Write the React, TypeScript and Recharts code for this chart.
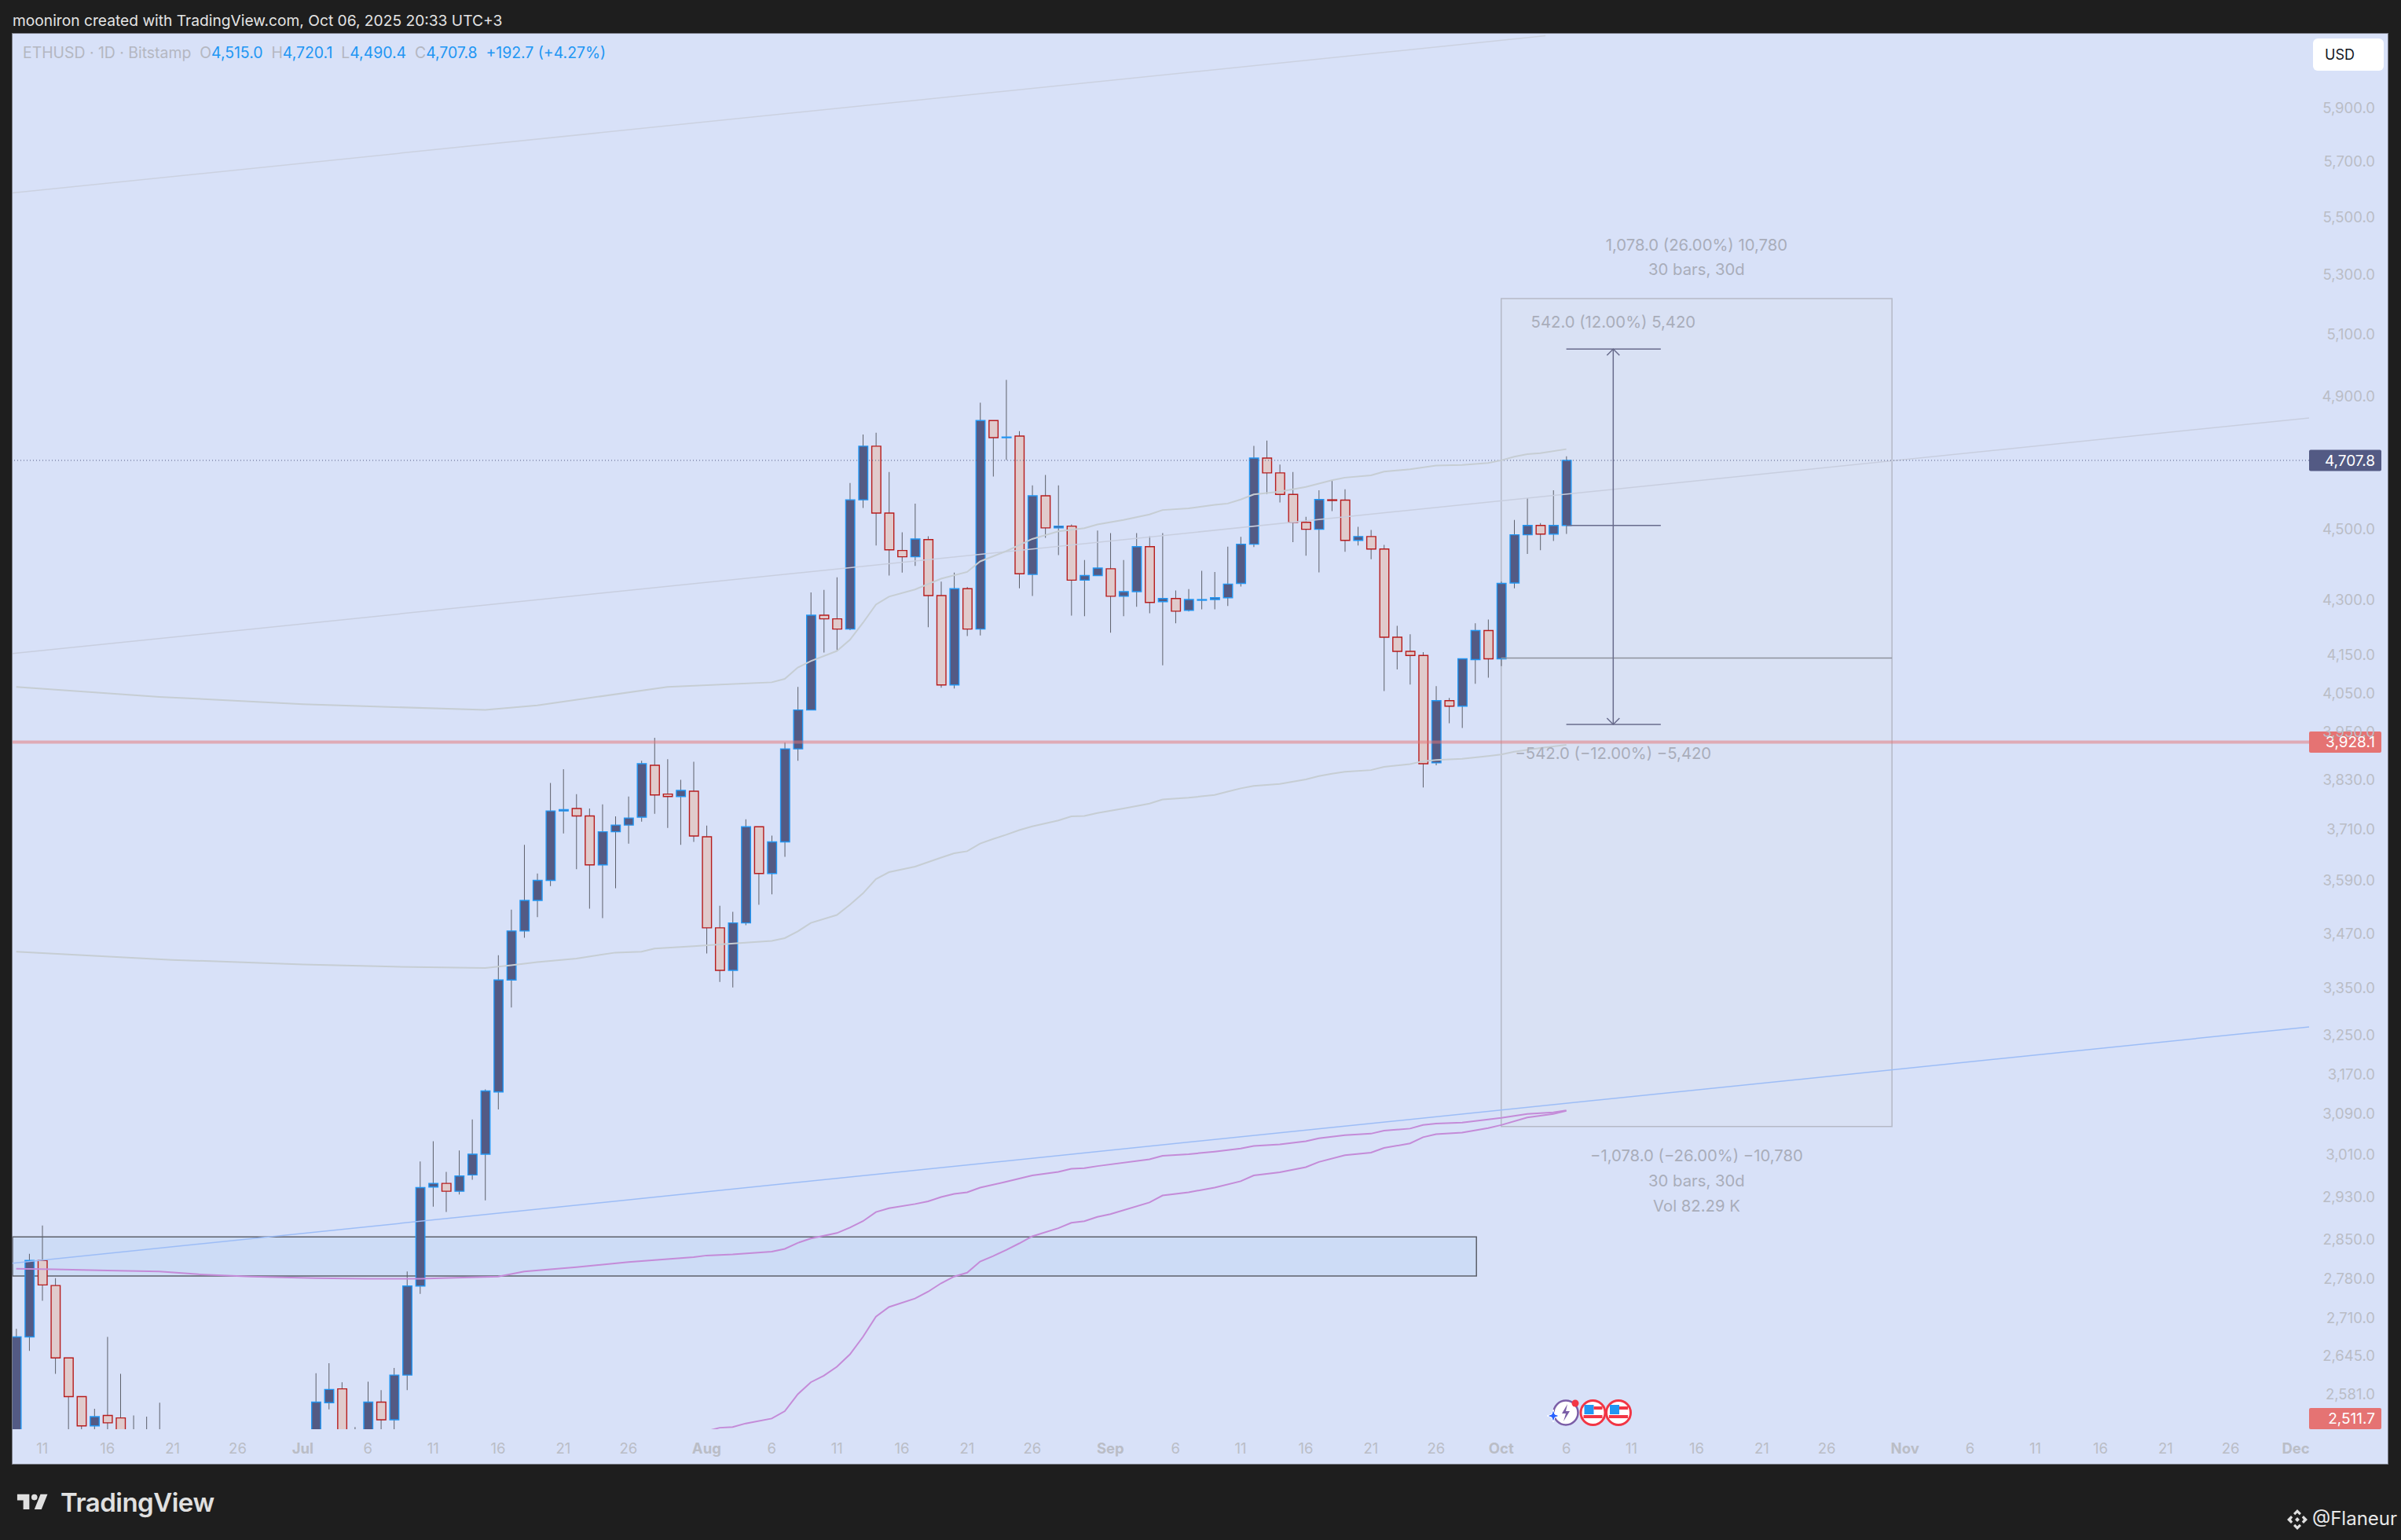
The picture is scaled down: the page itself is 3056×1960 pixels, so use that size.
import React from 'react'
import {
  Bar,
  Cell,
  ComposedChart,
  Line,
  ReferenceArea,
  ReferenceDot,
  ReferenceLine,
  XAxis,
  YAxis
} from 'recharts'

const WIDTH = 3056
const HEIGHT = 1960
const FONT = 'Inter, "Noto Sans", sans-serif'

// days counted from Jul 1 2025, ETHUSD 1D candles
const candleDays = [
  -22, -21, -20, -19, -18, -17, -16, -15, -14, -13, -12, -11,
  1, 2, 3, 4, 5, 6, 7, 8, 9, 10, 11, 12, 13, 14, 15, 16, 17, 18, 19, 20,
  21, 22, 23, 24, 25, 26, 27, 28, 29, 30, 31, 32, 33, 34, 35, 36, 37, 38, 39, 40,
  41, 42, 43, 44, 45, 46, 47, 48, 49, 50, 51, 52, 53, 54, 55, 56, 57, 58, 59, 60,
  61, 62, 63, 64, 65, 66, 67, 68, 69, 70, 71, 72, 73, 74, 75, 76, 77, 78, 79, 80,
  81, 82, 83, 84, 85, 86, 87, 88, 89, 90, 91, 92, 93, 94, 95, 96, 97
]
const opens = [
  2490, 2680, 2815, 2770, 2644, 2579, 2531, 2548, 2544, 2490, 2470, 2500,
  2510, 2569, 2592, 2500, 2515, 2570, 2541, 2615, 2769, 2951, 2958, 2943, 2974, 3014, 3137, 3371, 3479, 3548, 3594, 3758,
  3764, 3746, 3630, 3708, 3724, 3743, 3870, 3799, 3793, 3806, 3696, 3486, 3392, 3497, 3720, 3610, 3684, 3911, 4010, 4262,
  4252, 4224, 4590, 4751, 4551, 4443, 4425, 4474, 4316, 4075, 4335, 4224, 4830, 4777, 4782, 4375, 4602, 4508, 4513, 4359,
  4372, 4391, 4314, 4327, 4454, 4299, 4308, 4275, 4303, 4305, 4310, 4350, 4461, 4715, 4670, 4606, 4524, 4504, 4590, 4589,
  4472, 4483, 4447, 4202, 4164, 4153, 3876, 4034, 4020, 4142, 4220, 4144, 4351, 4488, 4515, 4490, 4515
]
const highs = [
  2694, 2827, 2879, 2783, 2644, 2579, 2559, 2680, 2617, 2548, 2546, 2569,
  2618, 2635, 2603, 2529, 2604, 2590, 2627, 2795, 3000, 3039, 2980, 3021, 3082, 3142, 3425, 3527, 3677, 3610, 3826, 3860,
  3799, 3764, 3774, 3745, 3793, 3881, 3939, 3885, 3834, 3879, 3723, 3536, 3522, 3738, 3720, 3699, 3927, 4070, 4325, 4332,
  4367, 4640, 4787, 4792, 4673, 4495, 4579, 4484, 4355, 4380, 4340, 4886, 4830, 4958, 4797, 4633, 4664, 4633, 4518, 4416,
  4500, 4493, 4416, 4493, 4484, 4493, 4330, 4334, 4385, 4382, 4454, 4482, 4752, 4768, 4695, 4673, 4540, 4618, 4647, 4621,
  4511, 4502, 4459, 4233, 4210, 4162, 4072, 4041, 4145, 4240, 4250, 4355, 4531, 4595, 4522, 4618, 4720.1
]
const lows = [
  2475, 2656, 2743, 2617, 2500, 2490, 2500, 2505, 2450, 2440, 2440, 2400,
  2490, 2558, 2480, 2470, 2495, 2515, 2510, 2590, 2755, 2914, 2904, 2937, 2965, 2926, 3102, 3312, 3464, 3510, 3581, 3704,
  3620, 3529, 3508, 3576, 3680, 3732, 3751, 3717, 3677, 3684, 3429, 3367, 3355, 3492, 3538, 3562, 3649, 3881, 4010, 4161,
  4165, 4221, 4566, 4457, 4372, 4380, 4399, 4229, 4068, 4066, 4205, 4207, 4659, 4709, 4336, 4315, 4479, 4430, 4261, 4259,
  4372, 4214, 4259, 4285, 4267, 4127, 4240, 4272, 4278, 4278, 4287, 4341, 4453, 4607, 4582, 4467, 4428, 4381, 4557, 4439,
  4457, 4418, 4059, 4116, 4076, 3815, 3870, 3976, 3964, 4078, 4094, 4125, 4336, 4433, 4444, 4470, 4490.4
]
const closes = [
  2680, 2815, 2771, 2644, 2579, 2531, 2546, 2536, 2480, 2470, 2500, 2420,
  2570, 2591, 2500, 2515, 2570, 2541, 2615, 2769, 2950, 2958, 2943, 2972, 3014, 3139, 3371, 3479, 3548, 3594, 3758, 3761,
  3746, 3630, 3708, 3724, 3741, 3874, 3797, 3793, 3808, 3698, 3486, 3392, 3497, 3720, 3610, 3684, 3911, 4010, 4262, 4252,
  4224, 4590, 4751, 4551, 4445, 4425, 4476, 4316, 4075, 4335, 4224, 4830, 4777, 4779, 4377, 4602, 4508, 4513, 4359, 4372,
  4393, 4314, 4327, 4454, 4297, 4308, 4273, 4305, 4305, 4310, 4348, 4461, 4715, 4670, 4606, 4524, 4504, 4591, 4588, 4472,
  4483, 4447, 4202, 4164, 4153, 3874, 4034, 4020, 4144, 4220, 4144, 4350, 4488, 4515, 4490, 4515, 4707.8
]

// anchored bands, sparse readings
const upperGrayDays = [-22, -11, 0, 14, 18, 28, 36, 37, 38, 39, 41, 42, 43, 44, 45, 47, 49, 51, 52, 54, 56, 58, 60, 61, 63, 65, 66, 68, 70, 71, 72, 73, 75, 77, 79, 80, 82, 83, 85, 87, 89, 91, 92, 93, 94, 95, 97]
const upperGrayValues = [4070, 4044, 4025, 4010, 4022, 4070, 4082, 4091, 4121, 4138, 4165, 4195, 4241, 4291, 4313, 4333, 4363, 4382, 4412, 4441, 4476, 4498, 4507, 4518, 4531, 4547, 4560, 4565, 4575, 4579, 4591, 4606, 4614, 4628, 4648, 4656, 4663, 4674, 4681, 4692, 4694, 4700, 4708, 4719, 4727, 4730, 4742]
const lowerGrayDays = [-22, -10, 0, 7, 14, 16, 18, 21, 24, 26, 27, 30, 32, 36, 37, 38, 39, 41, 42, 43, 44, 45, 47, 49, 50, 51, 52, 53, 54, 55, 56, 58, 59, 60, 61, 63, 65, 66, 68, 70, 71, 72, 73, 75, 77, 78, 79, 80, 82, 83, 85, 86, 87, 89, 91, 92, 93, 95, 97]
const lowerGrayValues = [3433, 3415, 3405, 3400, 3397, 3403, 3410, 3418, 3431, 3433, 3440, 3445, 3449, 3457, 3463, 3478, 3497, 3515, 3538, 3564, 3597, 3613, 3626, 3647, 3657, 3662, 3680, 3691, 3701, 3712, 3721, 3735, 3745, 3746, 3753, 3764, 3776, 3786, 3790, 3797, 3805, 3813, 3819, 3824, 3835, 3843, 3849, 3854, 3858, 3866, 3873, 3880, 3883, 3886, 3893, 3897, 3904, 3913, 3921]
const upperPurpleDays = [-22, -19, -15, -11, -8, -4, 1, 5, 9, 15, 17, 21, 25, 30, 31, 33, 36, 37, 38, 39, 40, 41, 42, 43, 44, 45, 47, 48, 49, 50, 51, 52, 54, 56, 58, 59, 60, 61, 65, 66, 68, 70, 72, 73, 75, 77, 78, 80, 82, 83, 85, 86, 87, 89, 91, 92, 94, 96, 97]
const upperPurpleValues = [2800, 2799, 2797, 2795, 2790, 2786, 2783, 2782, 2782, 2786, 2795, 2803, 2812, 2821, 2824, 2826, 2831, 2836, 2847, 2855, 2860, 2865, 2875, 2887, 2904, 2911, 2919, 2924, 2932, 2938, 2941, 2950, 2961, 2973, 2980, 2986, 2987, 2991, 3004, 3011, 3014, 3019, 3025, 3030, 3033, 3039, 3045, 3051, 3054, 3060, 3064, 3071, 3074, 3076, 3082, 3085, 3093, 3096, 3100]
const lowerPurpleDays = [30, 32, 33, 34, 36, 37, 38, 39, 40, 41, 42, 43, 44, 45, 47, 48, 49, 50, 51, 52, 53, 54, 55, 56, 58, 59, 60, 61, 62, 65, 66, 68, 70, 72, 73, 75, 77, 78, 80, 82, 83, 85, 86, 87, 89, 91, 92, 94, 96, 97]
const lowerPurpleValues = [2517, 2528, 2529, 2535, 2543, 2555, 2583, 2603, 2614, 2629, 2650, 2680, 2715, 2732, 2747, 2759, 2774, 2786, 2793, 2813, 2823, 2834, 2846, 2859, 2874, 2884, 2887, 2895, 2900, 2922, 2935, 2941, 2950, 2962, 2973, 2979, 2989, 2999, 3012, 3017, 3026, 3035, 3047, 3053, 3056, 3065, 3071, 3086, 3093, 3099]

// y axis and x axis labels
const priceTicks = [5900, 5700, 5500, 5300, 5100, 4900, 4500, 4300, 4150, 4050, 3950, 3830, 3710, 3590, 3470, 3350, 3250, 3170, 3090, 3010, 2930, 2850, 2780, 2710, 2645, 2581]
const timeTickDays = [-20, -15, -10, -5, 0, 5, 10, 15, 20, 25, 31, 36, 41, 46, 51, 56, 62, 67, 72, 77, 82, 87, 92, 97, 102, 107, 112, 117, 123, 128, 133, 138, 143, 148, 153]
const timeTickLabels = ['11', '16', '21', '26', 'Jul', '6', '11', '16', '21', '26', 'Aug', '6', '11', '16', '21', '26', 'Sep', '6', '11', '16', '21', '26', 'Oct', '6', '11', '16', '21', '26', 'Nov', '6', '11', '16', '21', '26', 'Dec']
const monthLabels = ['Jul', 'Aug', 'Sep', 'Oct', 'Nov', 'Dec']

const X_DOMAIN: [number, number] = [-22.28, 154.02]
const Y_DOMAIN: [number, number] = [2525.6, 6190]

// drawings on the chart
const lastClose = 4707.8
const redLevel = 3928.1
const zoneTop = 2858
const zoneBottom = 2787
const zoneEndDay = 90.1
const boxStartDay = 92
const boxEndDay = 122
const boxMid = 4146
const boxTop = 5224
const boxBottom = 3068
const innerStartDay = 97
const innerEndDay = 104.25
const innerMidDay = 100.6
const innerMid = 4515
const innerTop = 5057
const innerBottom = 3973

const candles = candleDays.map((day, i) => ({
  day,
  wick: [lows[i], highs[i]],
  body: [Math.min(opens[i], closes[i]), Math.max(opens[i], closes[i])],
  up: closes[i] >= opens[i]
}))

const toSeries = (days: number[], values: number[]) =>
  days.map((day, i) => ({ day, value: values[i] }))

const fmt = (v: number) =>
  v.toLocaleString('en-US', { minimumFractionDigits: 1, maximumFractionDigits: 1 })

const PriceTick = ({ y, payload }: any) => (
  <text x={3023} y={y - 2} dy="0.36em" textAnchor="end" fontFamily={FONT} fontSize={18.5} fill="#babdc6">
    {fmt(payload.value)}
  </text>
)

const TimeTick = ({ x, payload }: any) => {
  const label = timeTickLabels[timeTickDays.indexOf(payload.value)]
  return (
    <text
      x={x}
      y={1843}
      dy="0.36em"
      textAnchor="middle"
      fontFamily={FONT}
      fontSize={18.5}
      fontWeight={monthLabels.includes(label) ? 700 : 400}
      fill="#babdc6"
    >
      {label}
    </text>
  )
}

const PriceTag = ({ viewBox, text, fill }: any) => (
  <g>
    <rect x={2939} y={viewBox.y - 13.5} width={92} height={27} rx={2} fill={fill} />
    <text x={3023} y={viewBox.y} dy="0.36em" textAnchor="end" fontFamily={FONT} fontSize={19} fill="#ffffff">
      {text}
    </text>
  </g>
)

const noteShape = (text: string, dy: number) => (props: any) => (
  <text
    x={props.cx}
    y={props.cy + dy}
    dy="0.36em"
    textAnchor="middle"
    fontFamily={FONT}
    fontSize={20.3}
    fill="#a9adba"
  >
    {text}
  </text>
)

const arrowShape = (dir: number) => (props: any) => (
  <path
    d={`M${props.cx - 8} ${props.cy + dir * 8}L${props.cx} ${props.cy}L${props.cx + 8} ${props.cy + dir * 8}`}
    fill="none"
    stroke="#686b8c"
    strokeWidth={1.5}
  />
)

const UsFlag = ({ cx }: { cx: number }) => (
  <g>
    <circle cx={cx} cy={18} r={15.5} fill="#ffffff" stroke="#f23645" strokeWidth={3} />
    <rect x={cx - 11} y={8} width={12} height={12} fill="#2196f3" />
    <rect x={cx + 1} y={10} width={11} height={4} fill="#f23645" />
    <rect x={cx - 12} y={21} width={24} height={4} fill="#f23645" />
  </g>
)

const EventIcons = () => (
  <svg width={114} height={38} style={{ position: 'absolute', left: 1968, top: 1780 }}>
    <circle cx={25} cy={18} r={15.5} fill="#ffffff" stroke="#7b5ea7" strokeWidth={2.5} />
    <path d="M27 7l-7 12h5l-3 10 8-13h-5z" fill="#7b5ea7" />
    <path d="M9 14l2 6 6 2-6 2-2 6-2-6-6-2 6-2z" fill="#2962ff" stroke="#ffffff" strokeWidth={1} />
    <circle cx={37} cy={6} r={4.5} fill="#f23645" />
    <UsFlag cx={59.5} />
    <UsFlag cx={92} />
  </svg>
)

const TvLogo = () => (
  <svg width={47} height={36} viewBox="0 0 36 28" style={{ position: 'absolute', left: 19, top: 1894 }}>
    <path d="M14 6H2v6h6v9h6V6Zm12 15h-7l6-15h7l-6 15Zm-7-9a3 3 0 1 0 0-6 3 3 0 0 0 0 6Z" fill="#e0e0e0" />
  </svg>
)

const BinanceMark = () => (
  <svg width={28} height={28} viewBox="0 0 28 28" style={{ position: 'absolute', left: 2910, top: 1920 }}>
    <path
      d="M14 1l5 5-2.2 2.2L14 5.4l-2.8 2.8L9 6zM6 9l2.2 2.2L6 14l2.2 2.8L6 19l-5-5zM22 9l5 5-5 5-2.2-2.2L22 14l-2.2-2.8zM14 11l3 3-3 3-3-3zM9 22l2.2-2.2 2.8 2.8 2.8-2.8L19 22l-5 5z"
      fill="#e0e0e0"
    />
  </svg>
)

const Legend = () => (
  <div
    style={{
      position: 'absolute',
      left: 29,
      top: 56,
      fontFamily: FONT,
      fontSize: 19.4,
      lineHeight: '22px',
      color: '#b4b7c1',
      whiteSpace: 'pre'
    }}
  >
    ETHUSD · 1D · Bitstamp{'  O'}
    <span style={{ color: '#2196f3' }}>4,515.0</span>
    {'  H'}
    <span style={{ color: '#2196f3' }}>4,720.1</span>
    {'  L'}
    <span style={{ color: '#2196f3' }}>4,490.4</span>
    {'  C'}
    <span style={{ color: '#2196f3' }}>4,707.8</span>
    <span style={{ color: '#2196f3' }}>{'  +192.7 (+4.27%)'}</span>
  </div>
)

export default function App() {
  return (
    <div
      style={{
        position: 'fixed',
        left: 0,
        top: 0,
        width: WIDTH,
        height: HEIGHT,
        background: '#1e1e1e',
        overflow: 'hidden'
      }}
    >
      <div
        style={{
          position: 'absolute',
          left: 16,
          top: 43,
          width: 3023,
          height: 1820,
          background: '#d8e1f8',
          boxShadow: '0 0 0 1px #7c7f8a'
        }}
      />
      <div
        style={{
          position: 'absolute',
          left: 16,
          top: 14,
          fontFamily: FONT,
          fontSize: 19.2,
          lineHeight: '24px',
          color: '#e4e4e4'
        }}
      >
        mooniron created with TradingView.com, Oct 06, 2025 20:33 UTC+3
      </div>

      <div style={{ position: 'absolute', left: 0, top: 0 }}>
        <ComposedChart
          width={WIDTH}
          height={HEIGHT}
          data={candles}
          margin={{ top: 44, right: 17, bottom: 97, left: 16 }}
          barGap={0}
        >
          <XAxis
            dataKey="day"
            type="number"
            domain={X_DOMAIN}
            allowDataOverflow
            ticks={timeTickDays}
            interval={0}
            height={44}
            axisLine={false}
            tickLine={false}
            tick={<TimeTick />}
          />
          <XAxis xAxisId="wick" dataKey="day" type="number" domain={X_DOMAIN} allowDataOverflow hide />
          <YAxis
            orientation="right"
            width={100}
            scale="log"
            domain={Y_DOMAIN}
            allowDataOverflow
            ticks={priceTicks}
            interval={0}
            axisLine={false}
            tickLine={false}
            tick={<PriceTick />}
          />

          <ReferenceArea
            x1={X_DOMAIN[0]}
            x2={zoneEndDay}
            y1={zoneBottom}
            y2={zoneTop}
            fill="#cddcf6"
            fillOpacity={1}
            stroke="#5d606b"
            strokeWidth={1.5}
          />
          <ReferenceLine
            segment={[{ x: X_DOMAIN[0], y: 5591 }, { x: 95.4, y: 6185 }]}
            stroke="#cbd1e0"
            strokeWidth={1.5}
          />
          <ReferenceLine
            segment={[{ x: X_DOMAIN[0], y: 4158 }, { x: X_DOMAIN[1], y: 4838 }]}
            stroke="#c8cedf"
            strokeWidth={1.5}
          />
          <ReferenceLine
            segment={[{ x: X_DOMAIN[0], y: 2810 }, { x: X_DOMAIN[1], y: 3271 }]}
            stroke="#9dbdf6"
            strokeWidth={1.5}
          />
          <ReferenceLine
            y={redLevel}
            stroke="#e57373"
            strokeOpacity={0.5}
            strokeWidth={4}
            label={<PriceTag text="3,928.1" fill="#e57373" />}
          />
          <ReferenceLine
            y={lastClose}
            stroke="#535a84"
            strokeDasharray="1 3"
            strokeWidth={1}
            label={<PriceTag text="4,707.8" fill="#535a84" />}
          />

          <Line data={toSeries(upperGrayDays, upperGrayValues)} dataKey="value" stroke="#c6cdd3" strokeWidth={2} dot={false} isAnimationActive={false} />
          <Line data={toSeries(lowerGrayDays, lowerGrayValues)} dataKey="value" stroke="#c6cdd3" strokeWidth={2} dot={false} isAnimationActive={false} />
          <Line data={toSeries(upperPurpleDays, upperPurpleValues)} dataKey="value" stroke="#c48bd8" strokeWidth={2} dot={false} isAnimationActive={false} />
          <Line data={toSeries(lowerPurpleDays, lowerPurpleValues)} dataKey="value" stroke="#c48bd8" strokeWidth={2} dot={false} isAnimationActive={false} />

          <Bar xAxisId="wick" dataKey="wick" barSize={1} fill="#5d606b" isAnimationActive={false} />
          <Bar dataKey="body" barSize={11.5} strokeWidth={1.4} isAnimationActive={false}>
            {candles.map((c) => (
              <Cell
                key={c.day}
                fill={c.up ? '#535a84' : '#e0cbcc'}
                stroke={c.up ? '#2196f3' : '#b71c1c'}
              />
            ))}
          </Bar>

          <ReferenceArea
            x1={boxStartDay}
            x2={boxEndDay}
            y1={boxBottom}
            y2={boxTop}
            fill="#e6e6da"
            fillOpacity={0.12}
            stroke="#b5b9c6"
            strokeWidth={1.5}
          />
          <ReferenceLine segment={[{ x: boxStartDay, y: boxMid }, { x: boxEndDay, y: boxMid }]} stroke="#8f929c" strokeWidth={1.5} />
          <ReferenceLine segment={[{ x: innerStartDay, y: innerMid }, { x: innerEndDay, y: innerMid }]} stroke="#686b8c" strokeWidth={1.5} />
          <ReferenceLine segment={[{ x: innerStartDay, y: innerTop }, { x: innerEndDay, y: innerTop }]} stroke="#686b8c" strokeWidth={1.5} />
          <ReferenceLine segment={[{ x: innerStartDay, y: innerBottom }, { x: innerEndDay, y: innerBottom }]} stroke="#686b8c" strokeWidth={1.5} />
          <ReferenceLine segment={[{ x: innerMidDay, y: innerBottom }, { x: innerMidDay, y: innerTop }]} stroke="#686b8c" strokeWidth={1.5} />
          <ReferenceDot x={innerMidDay} y={innerTop} shape={arrowShape(1)} />
          <ReferenceDot x={innerMidDay} y={innerBottom} shape={arrowShape(-1)} />

          <ReferenceDot x={107} y={boxTop} shape={noteShape('1,078.0 (26.00%) 10,780', -68)} />
          <ReferenceDot x={107} y={boxTop} shape={noteShape('30 bars, 30d', -37)} />
          <ReferenceDot x={innerMidDay} y={innerTop} shape={noteShape('542.0 (12.00%) 5,420', -35)} />
          <ReferenceDot x={innerMidDay} y={innerBottom} shape={noteShape('−542.0 (−12.00%) −5,420', 37)} />
          <ReferenceDot x={107} y={boxBottom} shape={noteShape('−1,078.0 (−26.00%) −10,780', 37)} />
          <ReferenceDot x={107} y={boxBottom} shape={noteShape('30 bars, 30d', 69)} />
          <ReferenceDot x={107} y={boxBottom} shape={noteShape('Vol 82.29 K', 101)} />
        </ComposedChart>
      </div>

      <Legend />
      <EventIcons />

      <div
        style={{
          position: 'absolute',
          left: 2939,
          top: 1792,
          width: 84,
          paddingRight: 8,
          height: 27,
          borderRadius: 2,
          background: '#e57373',
          color: '#ffffff',
          fontFamily: FONT,
          fontSize: 19,
          lineHeight: '27px',
          textAlign: 'right'
        }}
      >
        2,511.7
      </div>
      <div
        style={{
          position: 'absolute',
          left: 2944,
          top: 49,
          width: 75,
          paddingLeft: 15,
          height: 41,
          borderRadius: 6,
          background: '#ffffff',
          color: '#131722',
          fontFamily: FONT,
          fontSize: 18,
          lineHeight: '41px'
        }}
      >
        USD
      </div>

      <TvLogo />
      <div
        style={{
          position: 'absolute',
          left: 77,
          top: 1892,
          fontFamily: FONT,
          fontSize: 33,
          fontWeight: 600,
          lineHeight: '40px',
          letterSpacing: '-0.5px',
          color: '#e0e0e0'
        }}
      >
        TradingView
      </div>
      <BinanceMark />
      <div
        style={{
          position: 'absolute',
          left: 2943,
          top: 1918,
          fontFamily: FONT,
          fontSize: 24,
          lineHeight: '30px',
          color: '#e8e8e8'
        }}
      >
        @Flaneur
      </div>
    </div>
  )
}
